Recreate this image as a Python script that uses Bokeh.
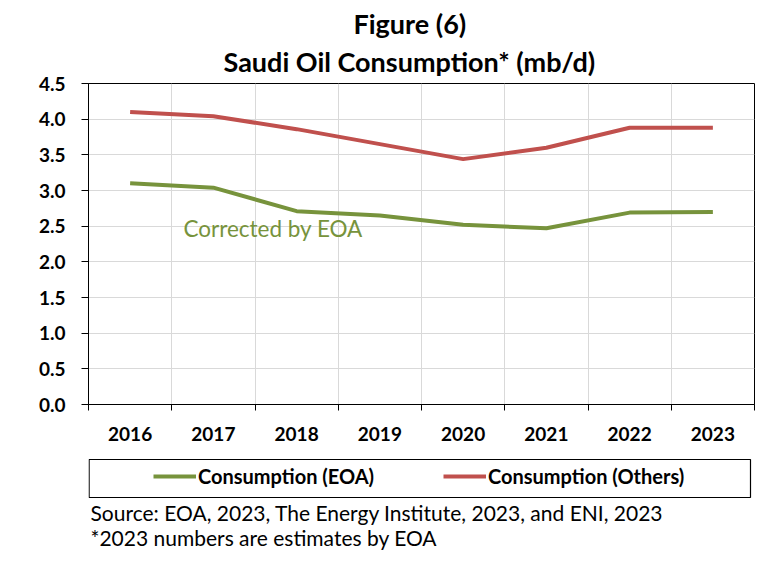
from bokeh.plotting import figure
from bokeh.models import (FixedTicker, Label, Legend, LegendItem, BoxAnnotation,
                          ColumnDataSource, Title)
from bokeh.layouts import column
from bokeh.embed import file_html
from bokeh.resources import INLINE

years = ["2016", "2017", "2018", "2019", "2020", "2021", "2022", "2023"]
eoa = [3.10, 3.04, 2.71, 2.65, 2.52, 2.47, 2.69, 2.70]
others = [4.10, 4.04, 3.86, 3.65, 3.44, 3.60, 3.88, 3.88]
y_ticks = [0.0, 0.5, 1.0, 1.5, 2.0, 2.5, 3.0, 3.5, 4.0, 4.5]

GREEN = "#77933C"
RED = "#C0504D"
FONT = "Lato"
W = 767
FL, FR = 88, 754   # frame left / right in page pixels

# ---- main chart ----
xpos = [i + 0.5 for i in range(len(years))]
src = ColumnDataSource(dict(x=xpos, eoa=eoa, others=others))

p = figure(width=W, height=454, output_backend="svg", toolbar_location=None,
           x_range=(0, len(years)), y_range=(0, 4.5))
p.min_border_left = FL
p.min_border_right = W - FR
p.min_border_top = 83
p.min_border_bottom = 50
p.outline_line_color = "black"
p.outline_line_width = 1
p.background_fill_color = "white"
p.border_fill_color = "white"

# titles (first added sits closest to the plot)
p.add_layout(Title(text="Saudi Oil Consumption* (mb/d)", align="left", offset=135,
                   standoff=11, text_font=FONT, text_font_style="bold",
                   text_font_size="27px", text_color="black"), "above")
p.add_layout(Title(text="Figure (6)", align="left", offset=265, standoff=-5,
                   text_font=FONT, text_font_style="bold",
                   text_font_size="27px", text_color="black"), "above")

r_eoa = p.line("x", "eoa", source=src, line_color=GREEN, line_width=4)
r_oth = p.line("x", "others", source=src, line_color=RED, line_width=4)

xt = FixedTicker(ticks=xpos, minor_ticks=list(range(len(years) + 1)))
p.xaxis.ticker = xt
p.xaxis.major_label_overrides = {x: y for x, y in zip(xpos, years)}
p.xaxis.major_tick_out = 0
p.xaxis.major_tick_in = 0
p.xaxis.minor_tick_out = 6
p.xaxis.minor_tick_in = 0
p.xaxis.minor_tick_line_color = "black"
p.xaxis.axis_line_color = "black"
p.xaxis.major_label_standoff = 16
p.xaxis.major_label_text_font = FONT
p.xaxis.major_label_text_font_style = "bold"
p.xaxis.major_label_text_font_size = "19px"
p.xaxis.major_label_text_color = "black"
p.xgrid.ticker = xt
p.xgrid.grid_line_color = None
p.xgrid.minor_grid_line_color = "#D9D9D9"
p.xgrid.minor_grid_line_width = 1

p.yaxis.ticker = FixedTicker(ticks=y_ticks)
p.yaxis.major_label_overrides = {v: f"{v:.1f}" for v in y_ticks}
p.yaxis.major_tick_out = 7
p.yaxis.major_tick_in = 0
p.yaxis.minor_tick_out = 0
p.yaxis.minor_tick_in = 0
p.yaxis.major_tick_line_color = "black"
p.yaxis.axis_line_color = "black"
p.yaxis.major_label_standoff = 16
p.yaxis.major_label_text_font = FONT
p.yaxis.major_label_text_font_style = "bold"
p.yaxis.major_label_text_font_size = "19px"
p.yaxis.major_label_text_color = "black"
p.ygrid.grid_line_color = "#D9D9D9"
p.ygrid.grid_line_width = 1

p.add_layout(Label(x=1.14, y=2.47, text="Corrected by EOA", text_font=FONT,
                   text_font_size="22.5px", text_color=GREEN,
                   text_align="left", text_baseline="middle"))

# ---- legend and notes (canvas y 454..550; data x = page x, data y = 550 - page y) ----
H2 = 96
BOT = 454 + H2
bot = figure(width=W, height=H2, output_backend="svg", toolbar_location=None,
             x_range=(FL, FR), y_range=(0, H2),
             x_axis_location=None, y_axis_location=None)
bot.min_border_left = FL
bot.min_border_right = W - FR
bot.min_border_top = 0
bot.min_border_bottom = 0
bot.grid.visible = False
bot.outline_line_color = None
bot.background_fill_color = "white"
bot.border_fill_color = "white"

# off-screen stand-ins so the legend can draw its line samples
l_eoa = bot.line(x=[0, 10], y=[-50, -50], line_color=GREEN, line_width=4)
l_oth = bot.line(x=[0, 10], y=[-50, -50], line_color=RED, line_width=4)

bot.add_layout(BoxAnnotation(left=88.6, right=750, top=BOT - 459, bottom=BOT - 497,
                             fill_alpha=0, line_color="black", line_width=1.2,
                             line_alpha=1))

legend = Legend(items=[LegendItem(label="Consumption (EOA)", renderers=[l_eoa]),
                       LegendItem(label="Consumption (Others)", renderers=[l_oth])],
                location=(153 - FL, BOT - 478 - 10), orientation="horizontal",
                label_width=245, spacing=0, padding=0, margin=0,
                glyph_width=43, glyph_height=20, label_standoff=2, label_height=20,
                border_line_alpha=0, background_fill_alpha=0,
                label_text_font=FONT, label_text_font_style="bold",
                label_text_font_size="20px", label_text_color="black")
bot.add_layout(legend)

bot.add_layout(Label(x=90, y=BOT - 512,
                     text="Source: EOA, 2023, The Energy Institute, 2023, and ENI, 2023",
                     text_font=FONT, text_font_size="21px", text_color="black",
                     text_align="left", text_baseline="middle"))
bot.add_layout(Label(x=90, y=BOT - 537,
                     text="*2023 numbers are estimates by EOA",
                     text_font=FONT, text_font_size="21px", text_color="black",
                     text_align="left", text_baseline="middle"))

layout = column(p, bot, spacing=0)
open("out.html", "w").write(file_html(layout, INLINE))
